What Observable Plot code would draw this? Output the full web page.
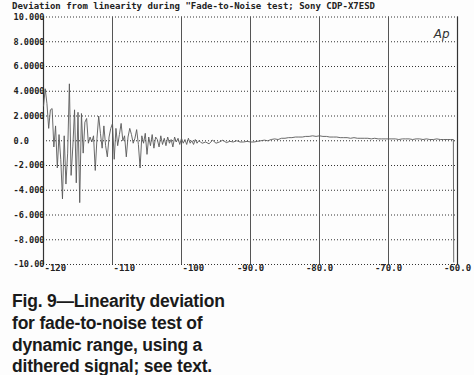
<!DOCTYPE html>
<html>
<head>
<meta charset="utf-8">
<script src="https://cdn.jsdelivr.net/npm/d3@7"></script>
<script src="https://cdn.jsdelivr.net/npm/@observablehq/plot@0.6"></script>
<style>
  html, body { margin: 0; padding: 0; background: #ffffff; }
  #wrap { position: relative; width: 474px; height: 375px; overflow: hidden; background: #fdfdfd; }
  #title { position: absolute; left: 12px; top: 1px; z-index: 2; font: bold 9px "DejaVu Sans Mono", monospace; color: #222; white-space: pre; line-height: 11px; }
  #chart { position: absolute; left: 0; top: 0; }
  #caption { position: absolute; left: 12px; top: 291px; font: bold 17.5px "Liberation Sans", Arial, sans-serif; line-height: 21.8px; color: #1a1a1a; letter-spacing: -0.2px; }
</style>
</head>
<body>
<div id="wrap">
  <div id="chart"></div>
  <div id="title"></div>
  <div id="caption"></div>
</div>
<script>
const titleText = 'Deviation from linearity during "Fade-to-Noise test; Sony CDP-X7ESD';
const captionLines = ["Fig. 9\u2014Linearity deviation", "for fade-to-noise test of", "dynamic range, using a", "dithered signal; see text."];

const xTicks = [-120, -110, -100, -90, -80, -70, -60];
const xTickLabels = ["-120", "-110", "-100", "-90.0", "-80.0", "-70.0", "-60.0"];
const yTicks = [-10, -8, -6, -4, -2, 0, 2, 4, 6, 8, 10];
const yTickLabels = ["-10.00", "-8.000", "-6.000", "-4.000", "-2.000", "0.0", "2.0000", "4.0000", "6.0000", "8.0000", "10.000"];

// Input level (dB) of the fade-to-noise sweep
const levelLow = [
  -120, -119.75, -119.5, -119.25, -119, -118.75, -118.5, -118.25, -118, -117.75,
  -117.5, -117.25, -117, -116.75, -116.5, -116.25, -116, -115.75, -115.5, -115.25,
  -115, -114.75, -114.5, -114.25, -114, -113.75, -113.5, -113.25, -113, -112.75,
  -112.5, -112.25, -112, -111.75, -111.5, -111.25, -111, -110.75, -110.5, -110.25,
  -110, -109.75, -109.5, -109.25, -109, -108.75, -108.5, -108.25, -108, -107.75,
  -107.5, -107.25, -107, -106.75, -106.5, -106.25, -106, -105.75, -105.5, -105.25,
  -105, -104.75, -104.5, -104.25, -104, -103.75, -103.5, -103.25, -103, -102.75,
  -102.5, -102.25, -102, -101.75, -101.5, -101.25, -101, -100.75, -100.5, -100.25,
  -100, -99.75, -99.5, -99.25, -99, -98.75, -98.5, -98.25, -98, -97.75,
  -97.5, -97.25, -97
];
// Deviation from linearity (dB) at those levels
const deviationLow = [
  2.8, 4.2, 3.0, 1.0, 2.5, 2.6, -0.5, 1.2, -2.2, 0.5,
  -1.5, -4.7, 0.4, -3.5, -1.0, 4.6, -2.8, -0.5, 2.5, -3.4,
  2.3, -5.0, 2.2, -1.0, 1.5, 1.8, -0.2, 0.3, -0.1, 0.4,
  -2.4, 0.2, 2.0, 0.6, -0.6, 1.2, -0.4, -1.3, 0.3, 1.0,
  1.4, -1.5, 1.0, -0.4, 0.5, 1.4, 0.0, 0.4, -1.3, 0.3,
  1.0, 0.5, -0.2, 0.2, 0.9, -0.3, -2.2, 0.4, -0.2, 0.6,
  -1.1, 0.3, -0.4, 0.5, -0.6, 0.3, 0.1, -0.5, 0.4, -0.3,
  0.2, -0.4, 0.3, -0.2, 0.1, -0.5, 0.3, -0.1, 0.2, -0.3,
  0.2, -0.2, 0.1, -0.3, 0.2, -0.2, 0.0, -0.3, 0.1, -0.2,
  0.0, -0.1, -0.2
];
const levelHigh = [
  -96.5, -96, -95.5, -95, -94.5, -94, -93.5, -93, -92.5, -92,
  -91.5, -91, -90.5, -90, -89.5, -89, -88.5, -88, -87.5, -87,
  -86.5, -86, -85.5, -85, -84.5, -84, -83.5, -83, -82.5, -82,
  -81.5, -81, -80.5, -80, -79.5, -79, -78.5, -78, -77.5, -77,
  -76.5, -76, -75.5, -75, -74.5, -74, -73.5, -73, -72.5, -72,
  -71.5, -71, -70.5, -70, -69.5, -69, -68.5, -68, -67.5, -67,
  -66.5, -66, -65.5, -65, -64.5, -64, -63.5, -63, -62.5, -62,
  -61.5, -61, -60.6, -60.55
];
const deviationHigh = [
  -0.1, -0.25, 0.05, -0.2, -0.1, 0.05, -0.15, -0.05, -0.1, 0.0,
  -0.1, -0.1, -0.05, -0.1, -0.1, -0.05, 0.0, 0.05, 0.0, 0.1,
  0.15, 0.1, 0.2, 0.2, 0.25, 0.25, 0.3, 0.3, 0.3, 0.35,
  0.35, 0.4, 0.35, 0.4, 0.35, 0.35, 0.3, 0.3, 0.3, 0.25,
  0.25, 0.25, 0.2, 0.25, 0.2, 0.2, 0.2, 0.2, 0.15, 0.2,
  0.15, 0.15, 0.15, 0.15, 0.15, 0.15, 0.1, 0.15, 0.15, 0.15,
  0.1, 0.15, 0.15, 0.1, 0.15, 0.1, 0.1, 0.15, 0.1, 0.1,
  0.1, 0.1, 0.1, -9.8
];

const trace = [
  ...levelLow.map((x, i) => ({x, y: deviationLow[i]})),
  ...levelHigh.map((x, i) => ({x, y: deviationHigh[i]}))
];
const xLab = xTicks.map((v, i) => ({v, label: xTickLabels[i]}));
const yLab = yTicks.map((v, i) => ({v, label: yTickLabels[i]}));

document.getElementById("title").textContent = titleText;
document.getElementById("caption").innerHTML = captionLines.map(s => `<div>${s}</div>`).join("");

const mono = '"DejaVu Sans Mono", monospace';
const chart = Plot.plot({
  width: 474,
  height: 276,
  marginLeft: 43,
  marginRight: 17,
  marginTop: 16.5,
  marginBottom: 12,
  style: {background: "transparent", fontFamily: mono},
  x: {domain: [-120, -60], axis: null},
  y: {domain: [-10, 10], axis: null},
  marks: [
    Plot.ruleY(yTicks, {stroke: "#333", strokeWidth: 1, strokeDasharray: "1,2"}),
    Plot.ruleX(xTicks, {stroke: "#555", strokeWidth: 1}),
    Plot.ruleX([-120, -60], {stroke: "#333", strokeWidth: 1.2}),
    Plot.line(trace, {x: "x", y: "y", stroke: "#595959", strokeWidth: 0.9, curve: "linear"}),
    Plot.text(yLab, {y: "v", text: "label", frameAnchor: "left", dx: -30, textAnchor: "start",
      fontSize: 8.6, fontWeight: "bold", fill: "#222", fontFamily: mono}),
    Plot.text(xLab.filter(d => d.label.length === 4), {x: "v", text: "label", frameAnchor: "bottom", dy: 6.5, dx: 1, textAnchor: "start",
      fontSize: 9, fontWeight: "bold", fill: "#222", fontFamily: mono}),
    Plot.text(xLab.filter(d => d.label.length !== 4), {x: "v", text: "label", frameAnchor: "bottom", dy: 6.5, textAnchor: "middle",
      fontSize: 9, fontWeight: "bold", fill: "#222", fontFamily: mono}),
    Plot.text(["Ap"], {frameAnchor: "top-right", dx: -8, dy: 12, fontSize: 12, fontStyle: "italic",
      fontFamily: "DejaVu Sans, sans-serif", fill: "#333"})
  ]
});
document.getElementById("chart").appendChild(chart);
</script>
</body>
</html>
